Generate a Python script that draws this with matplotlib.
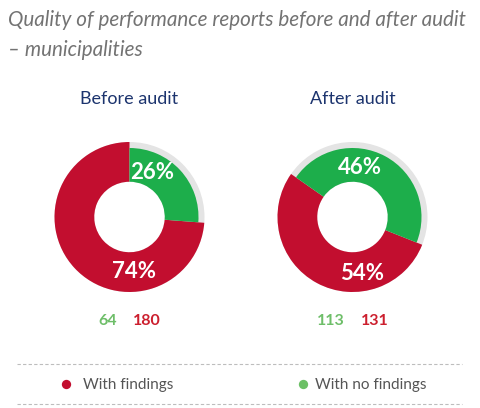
import matplotlib
matplotlib.use("Agg")
import matplotlib.pyplot as plt

W, H = 481, 408

title_lines = ["Quality of performance reports before and after audit", "– municipalities"]
panels = ["Before audit", "After audit"]
categories = ["With no findings", "With findings"]
no_findings = [64, 113]
with_findings = [180, 131]
start_angles = [90, 145]

RED = "#C20E2F"
GREEN = "#1DAE4B"
GREEN_TXT = "#6EBE69"
RED_TXT = "#CC1F2E"
GRAY_RING = "#E4E4E4"
NAVY = "#1C346E"
FONT = "Lato"

fig = plt.figure(figsize=(W / 100, H / 100), dpi=100)
fig.patch.set_facecolor("white")


def ftext(x, y, s, **kw):
    return fig.text(x / W, 1 - y / H, s, **kw)


ftext(8, 26, title_lines[0], fontsize=14.9, style="italic",
      color="#737373", family=FONT, va="baseline", ha="left")
ftext(8, 56, title_lines[1], fontsize=14.9, style="italic",
      color="#737373", family=FONT, va="baseline", ha="left")

centers = [(129.5, 217), (352.5, 217)]
R = 75
hole = 0.47

for i in range(2):
    cx, cy = centers[i]
    ax = fig.add_axes([(cx - R) / W, (H - cy - R) / H, 2 * R / W, 2 * R / H])
    ax.set_xlim(-1, 1)
    ax.set_ylim(-1, 1)
    ax.set_aspect("equal")
    ax.axis("off")
    vals = [no_findings[i], with_findings[i]]
    # background gray ring
    ax.pie([1], radius=1.0, colors=[GRAY_RING], startangle=90,
           wedgeprops=dict(width=1 - hole, linewidth=0))
    # red full radius
    w1, _ = ax.pie(vals, radius=1.0, colors=["none", RED], startangle=start_angles[i],
                   counterclock=False, wedgeprops=dict(width=1 - hole, linewidth=0))
    # green slightly smaller
    w2, _ = ax.pie(vals, radius=0.92, colors=[GREEN, "none"], startangle=start_angles[i],
                   counterclock=False, wedgeprops=dict(width=0.92 - hole, linewidth=0))
    w2[1].set_visible(False)
    w1[0].set_visible(False)
    ax.set_xlim(-1, 1)
    ax.set_ylim(-1, 1)
    ftext(cx, 104, panels[i], fontsize=13, color=NAVY, family=FONT,
          ha="center", va="baseline")

pct_pos = [[(152, 172), (134, 271)], [(360, 168), (362, 273)]]
num_pos = [[(108, 325), (147, 325)], [(331, 325), (375, 325)]]
for i in range(2):
    vals = [no_findings[i], with_findings[i]]
    tot = sum(vals)
    for j in range(2):
        x, y = pct_pos[i][j]
        ftext(x, y, f"{round(100 * vals[j] / tot)}%", fontsize=16, fontweight="bold",
              color="white", family=FONT, ha="center", va="center")
        x, y = num_pos[i][j]
        ftext(x, y, str(vals[j]), fontsize=11.5, fontweight="bold",
              color=[GREEN_TXT, RED_TXT][j], family=FONT, ha="center", va="baseline")

# legend area
lax = fig.add_axes([0, 0, 1, 1], facecolor="none")
lax.set_xlim(0, W)
lax.set_ylim(H, 0)
lax.axis("off")
for yy in (364, 404):
    lax.plot([17, 462], [yy, yy], color="#BDBDBD", lw=0.8, ls=(0, (3, 2)))
lax.scatter([66], [384], s=45, color=RED, linewidths=0)
lax.scatter([303], [384], s=45, color="#6CC066", linewidths=0)
ftext(83, 389, categories[1], fontsize=11, color="#555555", family=FONT,
      ha="left", va="baseline")
ftext(315, 389, categories[0], fontsize=11, color="#555555", family=FONT,
      ha="left", va="baseline")

fig.savefig("out.png", dpi=100)
